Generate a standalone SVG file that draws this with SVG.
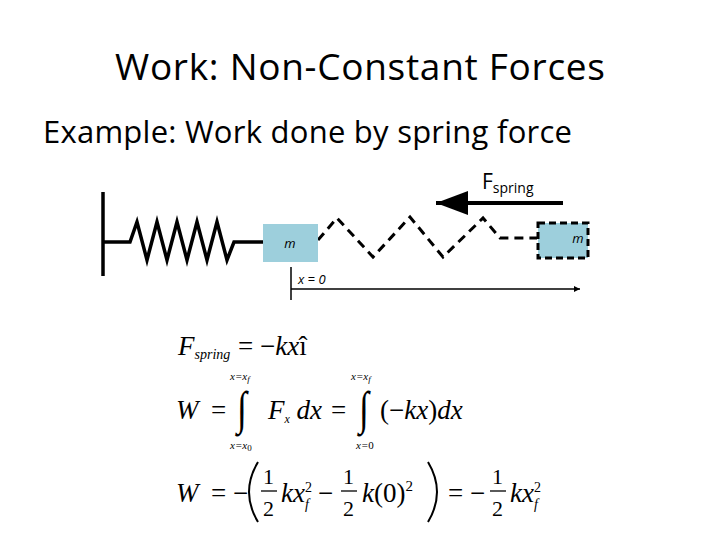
<svg xmlns="http://www.w3.org/2000/svg" width="720" height="540" viewBox="0 0 720 540">
<style>
.t{font-family:"Open Sans","Liberation Sans",sans-serif;fill:#000}
.m{font-family:"Liberation Serif",serif;font-style:italic;fill:#000}
.r{font-family:"Liberation Serif",serif;fill:#000}
.ln{stroke:#000;stroke-width:3.5;fill:none}
.dash{stroke:#000;stroke-width:3;fill:none;stroke-dasharray:9,6}
</style>
<defs><marker id="ah" markerWidth="8" markerHeight="6" refX="8" refY="3" orient="auto"><path d="M0,0 L8,3 L0,6 z" fill="#000"/></marker>
<marker id="ah2" markerWidth="4" markerHeight="4" refX="4" refY="2" orient="auto"><path d="M0,0 L4,2 L0,4 z" fill="#000"/></marker></defs>
<rect width="720" height="540" fill="#fff"/>
<text class="t" x="360" y="80" font-size="37" text-anchor="middle" textLength="490">Work: Non-Constant Forces</text>
<text class="t" x="43" y="143" font-size="31" textLength="529">Example: Work done by spring force</text>
<g id="wall"><line class="ln" x1="103" y1="192" x2="103" y2="276"/></g>
<g id="connectors">
<path class="ln" d="M103,242 H130 L137,222 L147,260 L157,222 L167,260 L177,222 L187,260 L197,222 L207,260 L217,222 L227,260 L234,242 H263"/>
<path class="dash" d="M318,240 L337,218 L373,257 L410,217 L443,257 L483,218 L500,238 H537"/>
<line x1="563" y1="203" x2="436" y2="203" stroke="#000" stroke-width="4" marker-end="url(#ah)"/>
<line x1="291" y1="267" x2="291" y2="300" stroke="#000" stroke-width="1.5"/>
<line x1="291" y1="289" x2="580" y2="289" stroke="#000" stroke-width="1.5" marker-end="url(#ah2)"/>
</g>
<g id="mass1"><rect x="263" y="224" width="55" height="38" fill="#9dcfdc"/><text class="t" x="290" y="248" font-size="13" font-style="italic" text-anchor="middle">m</text></g>
<g id="mass2"><rect x="538" y="223" width="50" height="35" fill="#9dcfdc" stroke="#000" stroke-width="3" stroke-dasharray="7,4"/><text class="t" x="578" y="243" font-size="13" font-style="italic" text-anchor="middle">m</text></g>
<g id="flabel"><text class="t" x="482" y="189" font-size="21">F<tspan font-size="14" dy="4">spring</tspan></text></g>
<text class="t" x="298" y="284" font-size="13" font-style="italic">x = 0</text>
<g id="eq1"><text class="m" x="178" y="355" font-size="27">F<tspan font-size="14" dy="4">spring</tspan></text><text class="r" x="238" y="355" font-size="27">= −<tspan font-style="italic">kx</tspan>î</text></g>
<g id="eq2">
<text class="m" x="176" y="419" font-size="27">W</text><text class="r" x="211" y="419" font-size="27">=</text>
<text class="r" font-size="36" transform="translate(237,424) scale(1,1.3)">∫</text>
<text class="m" x="230" y="380" font-size="11">x=x<tspan font-size="9" dy="2">f</tspan></text>
<text class="m" x="230" y="449" font-size="11">x=x<tspan font-size="9" dy="2" font-style="normal">0</tspan></text>
<text class="m" x="268" y="419" font-size="27">F<tspan font-size="12" dy="4">x</tspan><tspan dy="-4"> dx</tspan></text>
<text class="r" x="331" y="419" font-size="27">=</text>
<text class="r" font-size="36" transform="translate(359,424) scale(1,1.3)">∫</text>
<text class="m" x="351" y="380" font-size="11">x=x<tspan font-size="9" dy="2">f</tspan></text>
<text class="m" x="356" y="449" font-size="11">x=<tspan font-style="normal">0</tspan></text>
<text class="r" x="380" y="419" font-size="27">(−<tspan font-style="italic">kx</tspan>)<tspan font-style="italic">dx</tspan></text>
</g>
<g id="eq3">
<text class="m" x="176" y="502" font-size="27">W</text><text class="r" x="211" y="502" font-size="27">= −</text>
<path d="M258,462 Q240,492 258,522" stroke="#000" stroke-width="2" fill="none"/>
<text class="r" x="263" y="484" font-size="22">1</text><line x1="261" y1="491" x2="277" y2="491" stroke="#000" stroke-width="1.3"/><text class="r" x="263" y="516" font-size="22">2</text>
<text class="m" x="281" y="502" font-size="27">kx<tspan font-size="14" dy="-10" font-style="normal">2</tspan><tspan font-size="14" dx="-7" dy="17">f</tspan></text>
<text class="r" x="318" y="502" font-size="27">−</text>
<text class="r" x="343" y="484" font-size="22">1</text><line x1="341" y1="491" x2="357" y2="491" stroke="#000" stroke-width="1.3"/><text class="r" x="343" y="516" font-size="22">2</text>
<text class="m" x="362" y="502" font-size="27">k<tspan font-style="normal">(0)</tspan><tspan font-style="normal" font-size="15" dy="-11">2</tspan></text>
<path d="M428,462 Q446,492 428,522" stroke="#000" stroke-width="2" fill="none"/>
<text class="r" x="448" y="502" font-size="27">= −</text>
<text class="r" x="492" y="484" font-size="22">1</text><line x1="490" y1="491" x2="506" y2="491" stroke="#000" stroke-width="1.3"/><text class="r" x="492" y="516" font-size="22">2</text>
<text class="m" x="510" y="502" font-size="27">kx<tspan font-size="14" dy="-10" font-style="normal">2</tspan><tspan font-size="14" dx="-7" dy="17">f</tspan></text>
</g>
</svg>
